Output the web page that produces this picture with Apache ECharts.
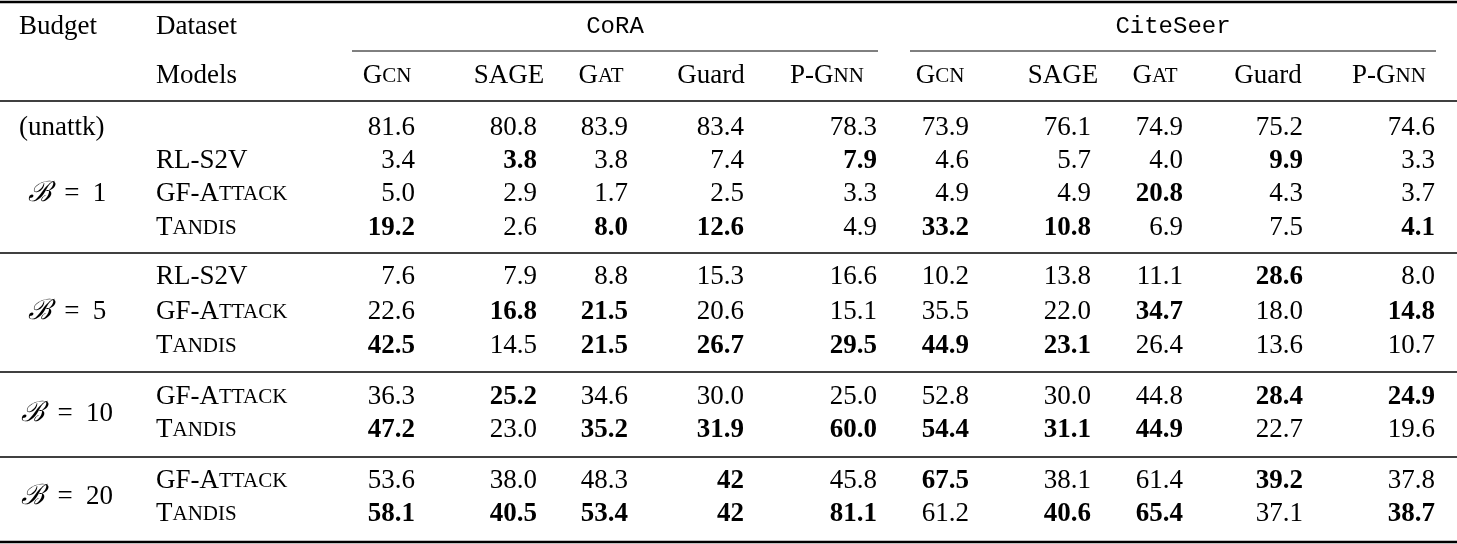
<!DOCTYPE html>
<html>
<head>
<meta charset="utf-8">
<script src="https://cdn.jsdelivr.net/npm/echarts@6/dist/echarts.min.js"></script>
<style>html,body{margin:0;background:#fff}#c{width:1457px;height:544px}</style>
</head>
<body>
<div id="c"></div>
<script>
// values, '*' marks a bold cell
const models = ['Gcn', 'SAGE', 'Gat', 'Guard', 'P-Gnn']
const datasets = ['CoRA', 'CiteSeer']
const budgets = ['1', '5', '10', '20']
const unattacked = ['81.6','80.8','83.9','83.4','78.3','73.9','76.1','74.9','75.2','74.6']
const rowNames = ['RL-S2V','GF-ATTACK','TANDIS','RL-S2V','GF-ATTACK','TANDIS','GF-ATTACK','TANDIS','GF-ATTACK','TANDIS']
const rowValues = [
    ['3.4','3.8*','3.8','7.4','7.9*','4.6','5.7','4.0','9.9*','3.3'],
    ['5.0','2.9','1.7','2.5','3.3','4.9','4.9','20.8*','4.3','3.7'],
    ['19.2*','2.6','8.0*','12.6*','4.9','33.2*','10.8*','6.9','7.5','4.1*'],
    ['7.6','7.9','8.8','15.3','16.6','10.2','13.8','11.1','28.6*','8.0'],
    ['22.6','16.8*','21.5*','20.6','15.1','35.5','22.0','34.7*','18.0','14.8*'],
    ['42.5*','14.5','21.5*','26.7*','29.5*','44.9*','23.1*','26.4','13.6','10.7'],
    ['36.3','25.2*','34.6','30.0','25.0','52.8','30.0','44.8','28.4*','24.9*'],
    ['47.2*','23.0','35.2*','31.9*','60.0*','54.4*','31.1*','44.9*','22.7','19.6'],
    ['53.6','38.0','48.3','42*','45.8','67.5*','38.1','61.4','39.2*','37.8'],
    ['58.1*','40.5*','53.4*','42*','81.1*','61.2','40.6*','65.4*','37.1','38.7*'],
]

// layout
const colRight = [415, 537, 628, 744, 877, 969, 1091, 1183, 1303, 1435]
const colHead = [387, 509, 601, 711, 827, 940, 1063, 1155, 1268, 1389]
const rowY = [161, 194, 228, 277, 312, 346, 397, 430, 481, 514]
const budgetY = [194, 312, 414, 497]
const rules = [[2, 0, 1457, 2.4], [51, 352, 878, 1], [51, 910, 1436, 1], [101, 0, 1457, 1.3],
    [253, 0, 1457, 1.3], [372, 0, 1457, 1.3], [457, 0, 1457, 1.3], [542, 0, 1457, 2.4]]

const serif = 'Liberation Serif'
const rich = {
    n: {fontFamily: serif, fontSize: 27, color: '#000'},
    s: {fontFamily: serif, fontSize: 21, color: '#000'},
    b: {fontFamily: serif, fontSize: 27, fontWeight: 'bold', color: '#000'},
    m: {fontFamily: 'Liberation Mono', fontSize: 24, color: '#000'},
    i: {fontFamily: serif, fontSize: 28, fontStyle: 'italic', color: '#000'},
}
const caps = s => {
    const sc = {'Gcn': '{n|G}{s|CN}', 'Gat': '{n|G}{s|AT}', 'P-Gnn': '{n|P-G}{s|NN}',
        'GF-ATTACK': '{n|GF-A}{s|TTACK}', 'TANDIS': '{n|T}{s|ANDIS}'}
    return sc[s] || '{n|' + s + '}'
}
const cell = v => v.endsWith('*') ? '{b|' + v.slice(0, -1) + '}' : '{n|' + v + '}'

// text items: [x, y, text, align]
const texts = []
texts.push([19, 27, '{n|Budget}', 'left'], [156, 27, '{n|Dataset}', 'left'], [156, 76, '{n|Models}', 'left'])
texts.push([615, 27, '{m|' + datasets[0] + '}', 'center'], [1173, 27, '{m|' + datasets[1] + '}', 'center'])
models.concat(models).forEach((m, i) => texts.push([colHead[i], 76, caps(m), 'center']))
texts.push([19, 128, '{n|(unattk)}', 'left'])
unattacked.forEach((v, i) => texts.push([colRight[i], 128, cell(v), 'right']))
rowNames.forEach((r, j) => {
    texts.push([156, rowY[j], caps(r), 'left'])
    rowValues[j].forEach((v, i) => texts.push([colRight[i], rowY[j], cell(v), 'right']))
})
budgets.forEach((b, k) => texts.push([67, budgetY[k], '{i|ℬ}{n|  =  ' + b + '}', 'center']))

const chart = echarts.init(document.getElementById('c'))
chart.setOption({
    animation: false,
    grid: {left: 0, right: 0, top: 0, bottom: 0},
    xAxis: {type: 'value', min: 0, max: 1457, show: false},
    yAxis: {type: 'value', min: 0, max: 544, inverse: true, show: false},
    series: [
        {
            type: 'custom', data: texts,
            renderItem: (params, api) => {
                const d = texts[params.dataIndex]
                const p = api.coord([d[0], d[1]])
                return {type: 'text', x: p[0], y: p[1],
                    style: {text: d[2], rich: rich, align: d[3], verticalAlign: 'middle'}}
            }
        },
        {
            type: 'custom', data: rules,
            renderItem: (params, api) => {
                const d = rules[params.dataIndex]
                const a = api.coord([d[1], d[0]]), b = api.coord([d[2], d[0]])
                return {type: 'line', shape: {x1: a[0], y1: a[1], x2: b[0], y2: b[1]},
                    style: {stroke: '#000', lineWidth: d[3]}}
            }
        }
    ]
})
</script>
</body>
</html>
